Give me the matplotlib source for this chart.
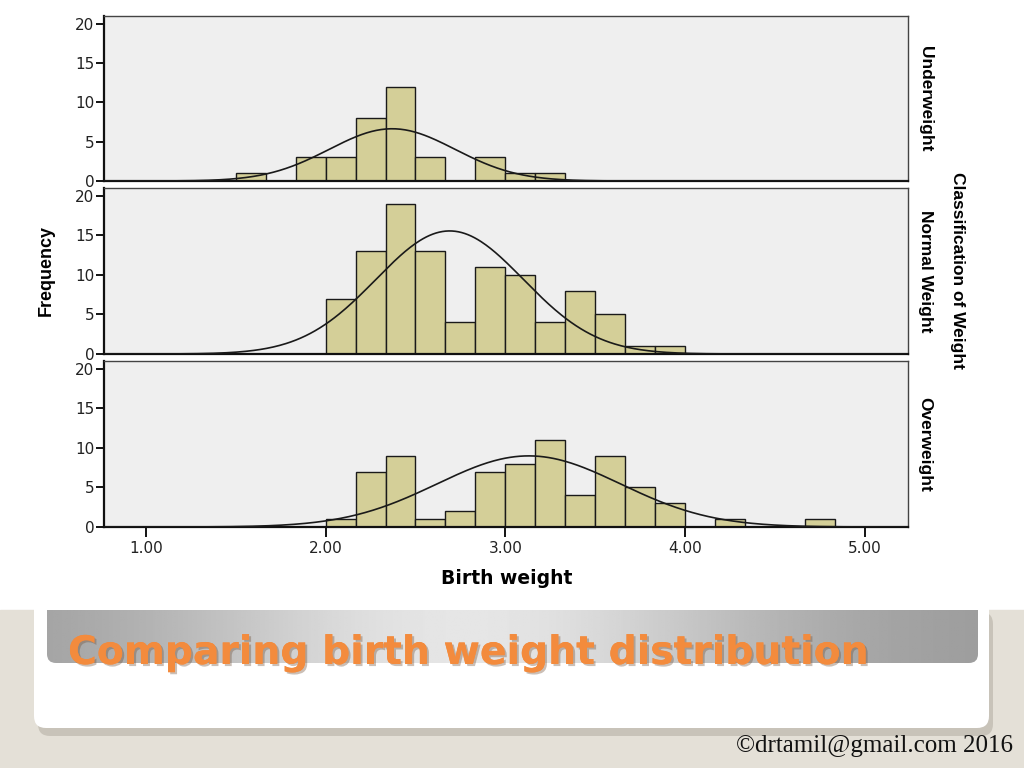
import numpy as np
import matplotlib
matplotlib.use("Agg")
import matplotlib.pyplot as plt
from matplotlib.patches import Rectangle, FancyBboxPatch
import matplotlib.patheffects as pe

# histogram data (bin width 1/6 kg)
BIN_WIDTH = 1 / 6
GROUPS = ["Underweight", "Normal Weight", "Overweight"]
UNDER_START = 1.5
UNDER_COUNTS = [1, 0, 3, 3, 8, 12, 3, 0, 3, 1, 1]
NORMAL_START = 2.0
NORMAL_COUNTS = [7, 13, 19, 13, 4, 11, 10, 4, 8, 5, 1, 1]
OVER_START = 2.0
OVER_COUNTS = [1, 7, 9, 1, 2, 7, 8, 11, 4, 9, 5, 3, 0, 1, 0, 0, 1]

# normal curve parameters (mean, sd)
UNDER_FIT = (2.37, 0.35)
NORMAL_FIT = (2.69, 0.41)
OVER_FIT = (3.13, 0.51)

X_TICKS = [1.0, 2.0, 3.0, 4.0, 5.0]
Y_TICKS = [0, 5, 10, 15, 20]

W, H = 1024, 768
BAR = "#d4cf98"
PANEL_BG = "#efefef"
BEIGE = "#e4e0d7"

fig = plt.figure(figsize=(W / 100, H / 100), dpi=100)
fig.patch.set_facecolor("white")

NARROW = ["Liberation Sans Narrow", "Liberation Sans", "DejaVu Sans"]
WIDE = ["DejaVu Sans"]


def px_rect(x0, y0, x1, y1):
    # pixel box (top-left origin) -> figure fraction rect
    return [x0 / W, 1 - y1 / H, (x1 - x0) / W, (y1 - y0) / H]


# ---- slide background ----
bg = fig.add_axes([0, 0, 1, 1], zorder=-5)
bg.set_xlim(0, W)
bg.set_ylim(H, 0)
bg.axis("off")
bg.add_patch(Rectangle((0, 610), W, H - 610, color=BEIGE, zorder=0))
# card shadow + card
bg.add_patch(FancyBboxPatch((38, 612), 955, 124, boxstyle="round,pad=0,rounding_size=12",
                            fc="#bdb8ad", ec="none", alpha=0.7, zorder=1))
bg.add_patch(FancyBboxPatch((34, 590), 955, 138, boxstyle="round,pad=0,rounding_size=12",
                            fc="white", ec="none", zorder=2))

# gradient banner
ban = fig.add_axes(px_rect(47, 610, 978, 663), zorder=-4)
ban.axis("off")
ban.set_xlim(0, 931)
ban.set_ylim(53, 0)
xs = np.linspace(0, 1, 400)
shade = 0.60 + 0.30 * np.exp(-((xs - 0.45) / 0.33) ** 2)
grad = np.tile(shade, (20, 1))
im = ban.imshow(grad, cmap="gray", vmin=0, vmax=1, extent=[0, 931, 53, 0], aspect="auto")
clip = FancyBboxPatch((0, -20), 931, 73, boxstyle="round,pad=0,rounding_size=9",
                      fc="none", ec="none", transform=ban.transData)
ban.add_patch(clip)
im.set_clip_path(clip)

fig.text(68 / W, 1 - 664 / H, "Comparing birth weight distribution", fontsize=28.3,
         fontweight="bold", color="#f38b3d", family="DejaVu Sans", va="baseline",
         path_effects=[pe.withSimplePatchShadow(offset=(1.5, -1.5), shadow_rgbFace="#6b4a30", alpha=0.35),
                       pe.Normal()])
fig.text(1013 / W, 1 - 752 / H, "\u00a9drtamil@gmail.com 2016", fontsize=18,
         family=["Liberation Serif", "DejaVu Serif"], ha="right", va="baseline", color="#111111")

# ---- histogram panels ----
panels = [
    (16, 181, UNDER_START, UNDER_COUNTS, UNDER_FIT),
    (188, 354, NORMAL_START, NORMAL_COUNTS, NORMAL_FIT),
    (361, 527, OVER_START, OVER_COUNTS, OVER_FIT),
]
xlo, xhi = 0.767, 5.24
curve_x = np.linspace(xlo, xhi, 500)

for i, (top, bottom, start, counts, (mu, sd)) in enumerate(panels):
    ax = fig.add_axes(px_rect(104, top, 908, bottom))
    ax.set_facecolor(PANEL_BG)
    counts = np.array(counts)
    lefts = start + BIN_WIDTH * np.arange(len(counts))
    keep = counts > 0
    ax.bar(lefts[keep], counts[keep], width=BIN_WIDTH, align="edge", color=BAR,
           edgecolor="#1a1a1a", linewidth=1.0, zorder=2)
    n = counts.sum()
    curve = n * BIN_WIDTH * np.exp(-0.5 * ((curve_x - mu) / sd) ** 2) / (sd * np.sqrt(2 * np.pi))
    ax.plot(curve_x, curve, color="#1a1a1a", linewidth=1.2, zorder=3)

    ax.set_xlim(xlo, xhi)
    ax.set_ylim(0, 21.0)
    ax.set_yticks(Y_TICKS)
    ax.tick_params(axis="y", direction="out", length=6, width=1.3, labelsize=11,
                   labelcolor="#222222", pad=1)
    for lab in ax.get_yticklabels():
        lab.set_family(WIDE)
    for side in ("left", "bottom"):
        ax.spines[side].set_linewidth(1.6)
        ax.spines[side].set_color("#111111")
    for side in ("top", "right"):
        ax.spines[side].set_linewidth(1.0)
        ax.spines[side].set_color("#444444")

    if i < 2:
        ax.set_xticks([])
    else:
        ax.set_xticks(X_TICKS)
        ax.set_xticklabels([f"{v:.2f}" for v in X_TICKS], family=WIDE)
        ax.tick_params(axis="x", direction="out", length=7, width=1.3, labelsize=11,
                       labelcolor="#222222", pad=3)

    ax.text(1.012, 0.5, GROUPS[i], transform=ax.transAxes, rotation=-90,
            ha="left", va="center", fontsize=12.5, fontweight="bold", family=NARROW)

fig.text(46 / W, 1 - 271 / H, "Frequency", rotation=90, ha="center", va="center",
         fontsize=13, fontweight="bold", family=NARROW)
fig.text(958 / W, 1 - 271 / H, "Classification of Weight", rotation=-90, ha="center",
         va="center", fontsize=12.5, fontweight="bold", family=NARROW)
fig.text(507 / W, 1 - 578 / H, "Birth weight", ha="center", va="center",
         fontsize=13.5, fontweight="bold", family=WIDE)

fig.savefig("out.png", dpi=100)
